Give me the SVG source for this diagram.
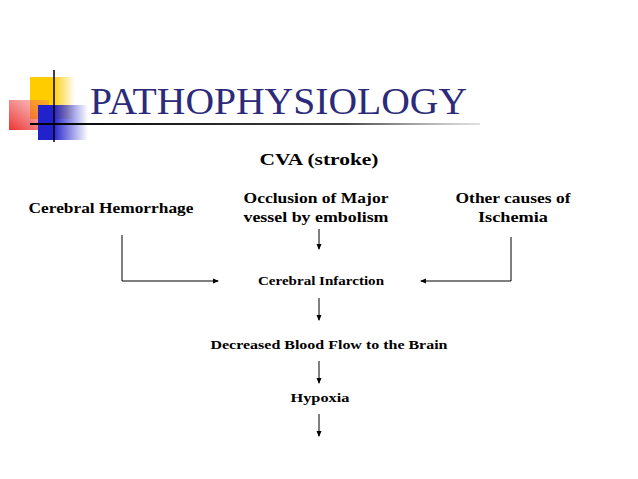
<svg xmlns="http://www.w3.org/2000/svg" width="638" height="479" viewBox="0 0 638 479">
<style>
.t{font-family:"Liberation Serif",serif;font-weight:bold;fill:#000;text-anchor:middle}
.c{stroke:#000;stroke-width:1;fill:none}
</style>
<defs>
<marker id="a" markerWidth="6" markerHeight="6" refX="5" refY="3" orient="auto" markerUnits="userSpaceOnUse"><path d="M0,0.5 L6,3 L0,5.5 Z" fill="#000"/></marker>
<linearGradient id="gy" x1="0" x2="1"><stop offset="0.5" stop-color="#ffcc00"/><stop offset="1" stop-color="#ffcc00" stop-opacity="0"/></linearGradient>
<linearGradient id="gr" x1="0" x2="1" y1="1" y2="0"><stop offset="0" stop-color="#ee3333"/><stop offset="1" stop-color="#ee6666" stop-opacity="0.3"/></linearGradient>
<linearGradient id="gb" x1="0" x2="1"><stop offset="0.3" stop-color="#2222cc"/><stop offset="1" stop-color="#2222cc" stop-opacity="0"/></linearGradient>
<linearGradient id="gl" x1="0" x2="1"><stop offset="0" stop-color="#000"/><stop offset="0.7" stop-color="#444"/><stop offset="1" stop-color="#999" stop-opacity="0.3"/></linearGradient>
</defs>
<g id="logo">
<rect x="30" y="77" width="45" height="42" fill="url(#gy)"/>
<rect x="9" y="100" width="40" height="30" fill="url(#gr)"/>
<rect x="38" y="105" width="50" height="35" fill="url(#gb)"/>
<line x1="54" y1="70" x2="54" y2="142" stroke="#000" stroke-width="1.5"/>
<rect x="30" y="123" width="450" height="2" fill="url(#gl)"/>
</g>
<text x="90" y="114" textLength="377" lengthAdjust="spacingAndGlyphs" style="font-family:'Liberation Serif',serif;font-size:37px;fill:#2b2b7a">PATHOPHYSIOLOGY</text>
<g id="cva"><text class="t" x="319" y="165" font-size="17" textLength="119" lengthAdjust="spacingAndGlyphs">CVA (stroke)</text></g>
<g id="hem"><text class="t" x="111" y="213" font-size="15" textLength="165" lengthAdjust="spacingAndGlyphs">Cerebral Hemorrhage</text></g>
<g id="occ"><text class="t" x="316" y="203" font-size="15" textLength="145" lengthAdjust="spacingAndGlyphs">Occlusion of Major</text><text class="t" x="316" y="222" font-size="15" textLength="145" lengthAdjust="spacingAndGlyphs">vessel by embolism</text></g>
<g id="oth"><text class="t" x="513" y="203" font-size="15" textLength="115" lengthAdjust="spacingAndGlyphs">Other causes of</text><text class="t" x="513" y="222" font-size="15" textLength="70" lengthAdjust="spacingAndGlyphs">Ischemia</text></g>
<g id="inf"><text class="t" x="321" y="285" font-size="13" textLength="126" lengthAdjust="spacingAndGlyphs">Cerebral Infarction</text></g>
<g id="dec"><text class="t" x="329" y="349" font-size="13" textLength="237" lengthAdjust="spacingAndGlyphs">Decreased Blood Flow to the Brain</text></g>
<g id="hyp"><text class="t" x="320" y="402" font-size="13" textLength="59" lengthAdjust="spacingAndGlyphs">Hypoxia</text></g>
<g id="connectors" class="c">
<path class="c" d="M122,235 V281 H218" marker-end="url(#a)"/>
<path class="c" d="M511,237 V281 H421" marker-end="url(#a)"/>
<path class="c" d="M319,229 V249" marker-end="url(#a)"/>
<path class="c" d="M319,298 V320" marker-end="url(#a)"/>
<path class="c" d="M319,361 V383" marker-end="url(#a)"/>
<path class="c" d="M319,414 V436" marker-end="url(#a)"/>
</g>
</svg>
